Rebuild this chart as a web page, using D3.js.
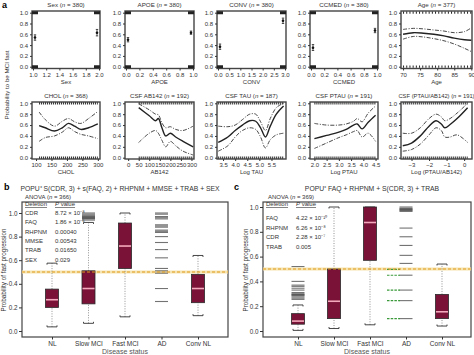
<!DOCTYPE html>
<html><head><meta charset="utf-8">
<script src="https://cdn.jsdelivr.net/npm/d3@7"></script>
<style>body{margin:0;background:#fff}svg{font-family:"Liberation Sans",Arial,Helvetica,sans-serif}</style>
</head><body><svg id="c" width="474" height="355"></svg>
<script>
// ---------- DATA: panel a, row 1 (categorical predictors) ----------
const sexLv=[1,2], sexFit=[0.54,0.63], sexLo=[0.49,0.57], sexHi=[0.59,0.69];
const apoeLv=[0,1], apoeFit=[0.50,0.63], apoeLo=[0.46,0.60], apoeHi=[0.54,0.66];
const convLv=[0,3], convFit=[0.37,0.85], convLo=[0.32,0.80], convHi=[0.42,0.90];
const ccmedLv=[0,1], ccmedFit=[0.35,0.67], ccmedLo=[0.30,0.63], ccmedHi=[0.41,0.71];
// ---------- DATA: smooth curves ----------
const ageX=[70,73,76,79,82,85,88,90];
const ageFit=[0.60,0.63,0.62,0.60,0.57,0.53,0.50,0.49];
const ageHi=[0.69,0.71,0.70,0.68,0.66,0.63,0.65,0.72];
const ageLo=[0.51,0.56,0.55,0.52,0.48,0.42,0.34,0.28];
const cholX=[110,130,160,185,205,225,245,270,300];
const cholFit=[0.59,0.55,0.49,0.55,0.63,0.58,0.52,0.55,0.62];
const cholHi=[0.84,0.70,0.58,0.67,0.72,0.66,0.63,0.72,0.85];
const cholLo=[0.30,0.37,0.40,0.47,0.55,0.48,0.43,0.40,0.35];
const abX=[50,100,130,143,160,178,200,225,260,308];
const abFit=[0.92,0.77,0.68,0.72,0.55,0.40,0.45,0.38,0.30,0.20];
const abHi=[0.99,0.88,0.80,0.79,0.64,0.55,0.57,0.52,0.50,0.58];
const abLo=[0.28,0.45,0.50,0.45,0.32,0.20,0.30,0.22,0.12,0.05];
const tauX=[3.3,3.7,4.0,4.3,4.6,4.85,5.05,5.25,5.45,5.7,6.0];
const tauFit=[0.28,0.38,0.50,0.60,0.68,0.67,0.55,0.38,0.58,0.80,0.95];
const tauHi=[0.58,0.57,0.60,0.70,0.80,0.80,0.66,0.50,0.72,0.92,1.0];
const tauLo=[0.12,0.22,0.38,0.50,0.55,0.52,0.38,0.18,0.33,0.42,0.45];
const ptauX=[2.0,2.5,3.0,3.3,3.6,3.75,3.95,4.2,4.5];
const ptauFit=[0.35,0.41,0.47,0.52,0.60,0.62,0.53,0.65,0.78];
const ptauHi=[0.63,0.60,0.60,0.62,0.67,0.72,0.66,0.82,0.95];
const ptauLo=[0.17,0.27,0.37,0.42,0.48,0.50,0.38,0.45,0.30];
const ratioX=[-3.5,-3.0,-2.5,-2.0,-1.6,-1.3,-1.1,-0.8,-0.4,0.2];
const ratioFit=[0.22,0.27,0.40,0.58,0.68,0.62,0.55,0.61,0.72,0.92];
const ratioHi=[0.45,0.45,0.55,0.72,0.80,0.75,0.68,0.72,0.82,1.0];
const ratioLo=[0.12,0.15,0.25,0.42,0.55,0.50,0.38,0.38,0.42,0.28];
const yTicks=[0,0.2,0.4,0.6,0.8,1.0];

// ---------- DATA: panel b ----------
const statusCats=["NL","Slow MCI","Fast MCI","AD","Conv NL"];
const bLoW=[0.035,0.065,0.12,null,0.13];
const bQ1=[0.20,0.23,0.53,null,0.24];
const bMed=[0.265,0.36,0.72,null,0.36];
const bQ3=[0.355,0.51,0.915,null,0.48];
const bHiW=[0.575,0.92,1.0,null,0.64];
const bOut=[[],[0.94,0.95,0.955,0.96,0.965,0.97,0.98,0.99,1.0],[],
  [1.0,0.99,0.97,0.96,0.95,0.90,0.89,0.88,0.855,0.845,0.835,0.80,0.75,0.69,0.62,0.53,0.51,0.49,0.36,0.25],[]];
const bDel=["CDR","FAQ","RHPNM","MMSE","TRAB","SEX"];
const bP=["8.72 × 10⁻⁸","1.86 × 10⁻⁵","0.00040","0.00543","0.01650","0.029"];
// ---------- DATA: panel c ----------
const cLoW=[0.005,0.02,0.05,null,0.04];
const cQ1=[0.055,0.10,0.57,null,0.10];
const cMed=[0.08,0.24,0.875,null,0.155];
const cQ3=[0.14,0.50,1.0,null,0.295];
const cHiW=[0.21,1.0,1.0,null,0.54];
const cOut=[[0.255,0.265,0.275,0.285,0.29,0.295,0.30,0.31,0.33,0.345,0.36,0.37,0.40,0.52],[],[],
  [1.0,0.99,0.985,0.98,0.975,0.97,0.965,0.83,0.76,0.69,0.61,0.545,0.45,0.33,0.245,0.10],[]];
const cGreen=[0.497,0.45,0.33,0.245,0.10];
const cDel=["FAQ","RHPNM","CDR","TRAB"];
const cP=["4.22 × 10⁻¹⁰","6.26 × 10⁻⁸","2.28 × 10⁻⁷","0.005"];

const svg=d3.select("#c");
const ink="#333";
const f1=d3.format(".1f");

// ---------- panel a helpers ----------
function frame(g,x0,x1,y0,y1,title,n,xlab,xs,ticks,fmt,ys,tfs){
  g.append("rect").attr("x",x0).attr("y",y0).attr("width",x1-x0).attr("height",y1-y0)
    .attr("fill","none").attr("stroke","#444").attr("stroke-width",1.4);
  const t=g.append("text").attr("x",(x0+x1)/2).attr("y",y0-4).attr("text-anchor","middle")
    .attr("font-size",tfs||6.2).attr("fill",ink);
  t.append("tspan").text(title+" (");
  t.append("tspan").attr("font-style","italic").text("n");
  t.append("tspan").text(" = "+n+")");
  const ya=g.append("g").attr("transform",`translate(${x0},0)`)
    .call(d3.axisLeft(ys).tickValues(yTicks).tickFormat(f1).tickSize(2).tickPadding(2));
  ya.select(".domain").remove();
  ya.selectAll("text").attr("font-size",6).attr("fill",ink);
  ya.selectAll("line").attr("stroke",ink);
  const xa=g.append("g").attr("transform",`translate(0,${y1})`)
    .call(d3.axisBottom(xs).tickValues(ticks).tickFormat(fmt).tickSize(2).tickPadding(2));
  xa.select(".domain").remove();
  xa.selectAll("text").attr("font-size",6).attr("fill",ink);
  xa.selectAll("line").attr("stroke",ink);
  g.append("text").attr("x",(x0+x1)/2).attr("y",y1+15).attr("text-anchor","middle")
    .attr("font-size",6).attr("fill",ink).text(xlab);
}

const rowY=[[11,68.5,12.7,66.7],[102,159,103.3,157.7]];
const colX=[[32,100],[125,194],[217,286],[310,378],[401,472]];

function catPanel(ci,title,n,xlab,dom,ticks,lv,fit,lo,hi,fmt){
  const [x0,x1]=colX[ci],[y0,y1,yt,yb]=rowY[0];
  const g=svg.append("g");
  const xs=d3.scaleLinear().domain(dom).range([x0+1,x1-1]);
  const ys=d3.scaleLinear().domain([0,1]).range([yb,yt]);
  frame(g,x0,x1,y0,y1,title,n,xlab,xs,ticks,fmt,ys);
  const clip="clip"+ci;
  g.append("clipPath").attr("id",clip).append("rect").attr("x",x0).attr("y",y0).attr("width",x1-x0).attr("height",y1-y0);
  const inner=g.append("g").attr("clip-path",`url(#${clip})`);
  lv.forEach((v,i)=>{
    [0,1].forEach(r=>inner.append("line").attr("x1",xs(v)-5).attr("x2",xs(v)+5)
      .attr("y1",ys(r)).attr("y2",ys(r)).attr("stroke","#222").attr("stroke-width",3));
    const px=xs(v)+(i===0?2:-2);
    inner.append("line").attr("x1",px).attr("x2",px).attr("y1",ys(lo[i])).attr("y2",ys(hi[i]))
      .attr("stroke","#222").attr("stroke-width",0.8);
    [lo[i],hi[i]].forEach(e=>inner.append("line").attr("x1",px-1.2).attr("x2",px+1.2)
      .attr("y1",ys(e)).attr("y2",ys(e)).attr("stroke","#222").attr("stroke-width",0.8));
    inner.append("circle").attr("cx",px).attr("cy",ys(fit[i])).attr("r",1.3).attr("fill","#111");
  });
}

function curvePanel(row,ci,title,n,xlab,dom,ticks,fmt,xv,fit,hi,lo,rugDash,tfs){
  const [x0,x1]=colX[ci],[y0,y1,yt,yb]=rowY[row];
  const g=svg.append("g");
  const xs=d3.scaleLinear().domain(dom).range([x0,x1]);
  const ys=d3.scaleLinear().domain([0,1]).range([yb,yt]);
  frame(g,x0,x1,y0,y1,title,n,xlab,xs,ticks,fmt,ys,tfs);
  const clip="clipc"+row+ci;
  g.append("clipPath").attr("id",clip).append("rect").attr("x",x0).attr("y",y0).attr("width",x1-x0).attr("height",y1-y0);
  const inner=g.append("g").attr("clip-path",`url(#${clip})`);
  const ext=d3.extent(xv);
  [0,1].forEach(r=>inner.append("line").attr("x1",xs(ext[0])).attr("x2",xs(ext[1]))
    .attr("y1",ys(r)).attr("y2",ys(r)).attr("stroke","#222").attr("stroke-width",2.2)
    .attr("stroke-dasharray",rugDash));
  const line=d3.line().x((d,i)=>xs(xv[i])).y(d=>ys(d)).curve(d3.curveCatmullRom);
  inner.append("path").attr("d",line(hi)).attr("fill","none").attr("stroke","#333")
    .attr("stroke-width",0.9).attr("stroke-dasharray","4,1.5,1,1.5");
  inner.append("path").attr("d",line(lo)).attr("fill","none").attr("stroke","#333")
    .attr("stroke-width",0.9).attr("stroke-dasharray","4,1.5,1,1.5");
  inner.append("path").attr("d",line(fit)).attr("fill","none").attr("stroke","#222")
    .attr("stroke-width",1.4);
}

const fmt1=d3.format(".1f"), fmt0=d3.format("d");
catPanel(0,"Sex",380,"Sex",[1,2],[1,1.2,1.4,1.6,1.8,2],sexLv,sexFit,sexLo,sexHi,fmt1);
catPanel(1,"APOE",380,"APOE",[0,1],[0,0.2,0.4,0.6,0.8,1],apoeLv,apoeFit,apoeLo,apoeHi,fmt1);
catPanel(2,"CONV",380,"CONV",[0,3],[0,0.5,1,1.5,2,2.5,3],convLv,convFit,convLo,convHi,fmt1);
catPanel(3,"CCMED",380,"CCMED",[0,1],[0,0.2,0.4,0.6,0.8,1],ccmedLv,ccmedFit,ccmedLo,ccmedHi,fmt1);
curvePanel(0,4,"Age",377,"Age",[69.4,90.2],[70,75,80,85,90],fmt0,ageX,ageFit,ageHi,ageLo,"1,2.2");
curvePanel(1,0,"CHOL",368,"CHOL",[87,307],[100,150,200,250,300],fmt0,cholX,cholFit,cholHi,cholLo,"1,1");
curvePanel(1,1,"CSF AB142",192,"AB142",[-15,312],[0,50,100,150,200,250,300],fmt0,abX,abFit,abHi,abLo,"1,1");
curvePanel(1,2,"CSF TAU",187,"Log TAU",[3.25,6.1],[3.5,4,4.5,5,5.5],fmt1,tauX,tauFit,tauHi,tauLo,"1,1");
curvePanel(1,3,"CSF PTAU",191,"Log PTAU",[1.82,4.6],[2,2.5,3,3.5,4,4.5],fmt1,ptauX,ptauFit,ptauHi,ptauLo,"1,1");
curvePanel(1,4,"CSF (PTAU/AB142)",191,"Log (PTAU/AB142)",[-3.6,0.45],[-3,-2,-1,0],fmt0,ratioX,ratioFit,ratioHi,ratioLo,"1,1",5.8);

svg.append("text").attr("x",2).attr("y",8).attr("font-size",9).attr("font-weight","bold").text("a");
svg.append("text").attr("transform","translate(9,85) rotate(-90)").attr("text-anchor","middle")
  .attr("font-size",6.2).attr("fill",ink).text("Probability to be MCI fast");

// ---------- panels b / c ----------
function boxPanel(o){
  const g=svg.append("g");
  const xs=d3.scalePoint().domain(statusCats).range(o.xr);
  const ys=d3.scaleLinear().domain([0,1]).range(o.yr);
  g.append("text").attr("x",o.lx).attr("y",190).attr("font-size",9).attr("font-weight","bold").text(o.letter);
  g.append("text").attr("x",o.tx).attr("y",191).attr("text-anchor","middle").attr("font-size",6.8).attr("fill",ink)
    .text(o.title);
  const an=g.append("text").attr("x",o.ax).attr("y",199).attr("font-size",6).attr("fill",ink);
  an.append("tspan").text("ANOVA (");an.append("tspan").attr("font-style","italic").text("n");
  an.append("tspan").text(" = "+o.n+")");
  g.append("rect").attr("x",o.bx[0]).attr("y",202).attr("width",o.bx[1]-o.bx[0]).attr("height",135)
    .attr("fill","#fff").attr("stroke","#444").attr("stroke-width",1.2);
  const ya=g.append("g").attr("transform",`translate(${o.bx[0]},0)`)
    .call(d3.axisLeft(ys).tickValues(yTicks).tickFormat(f1).tickSize(3).tickPadding(1.5));
  ya.select(".domain").remove();ya.selectAll("text").attr("font-size",6.3).attr("fill",ink);
  ya.selectAll("line").attr("stroke",ink);
  const xa=g.append("g").attr("transform",`translate(0,337)`)
    .call(d3.axisBottom(xs).tickSize(2.5).tickPadding(2));
  xa.select(".domain").remove();xa.selectAll("text").attr("font-size",6.5).attr("fill",ink);
  xa.selectAll("line").attr("stroke",ink);
  g.append("text").attr("x",(o.bx[0]+o.bx[1])/2).attr("y",354).attr("text-anchor","middle")
    .attr("font-size",7).attr("fill","#555").text("Disease status");
  g.append("text").attr("transform",`translate(${o.ylx},270) rotate(-90)`).attr("text-anchor","middle")
    .attr("font-size",6.3).attr("fill",ink).text("Probability of fast progression");
  // table
  g.append("text").attr("x",o.bx[0]+3).attr("y",206).attr("font-size",6).attr("fill",ink)
    .attr("text-decoration","underline").text("Deletion");
  const h2=g.append("text").attr("x",o.bx[0]+33).attr("y",206).attr("font-size",6).attr("fill",ink)
    .attr("text-decoration","underline");
  h2.append("tspan").attr("font-style","italic").text("P");h2.append("tspan").text(" value");
  o.del.forEach((d,i)=>{
    const y=o.ty0+i*o.tdy;
    g.append("text").attr("x",o.bx[0]+3).attr("y",y).attr("font-size",6).attr("fill",ink).text(d);
    g.append("text").attr("x",o.bx[0]+33).attr("y",y).attr("font-size",6).attr("fill",ink).text(o.p[i]);
  });
  // threshold line band
  g.append("line").attr("x1",o.bx[0]).attr("x2",o.bx[1]).attr("y1",ys(0.5)).attr("y2",ys(0.5))
    .attr("stroke","#f5e4b0").attr("stroke-width",3);
  const bw=13;
  statusCats.forEach((c,i)=>{
    const cx=xs(c);
    if(o.q1[i]!==null){
      const wl=(a,b)=>g.append("line").attr("x1",cx).attr("x2",cx).attr("y1",ys(a)).attr("y2",ys(b))
        .attr("stroke","#777").attr("stroke-width",0.8).attr("stroke-dasharray","1,1.5");
      wl(o.lw[i],o.q1[i]);wl(o.q3[i],o.hw[i]);
      [[o.lw[i],-1],[o.hw[i],1]].forEach(([v,s])=>{
        g.append("path").attr("d",`M${cx-5},${ys(v)+s*1.5}V${ys(v)}H${cx+5}V${ys(v)+s*1.5}`)
          .attr("fill","none").attr("stroke","#333").attr("stroke-width",0.9);
      });
      g.append("rect").attr("x",cx-bw/2).attr("y",ys(o.q3[i])).attr("width",bw)
        .attr("height",ys(o.q1[i])-ys(o.q3[i])).attr("fill","#7a1238").attr("stroke","#2a2a2a").attr("stroke-width",0.8);
      g.append("line").attr("x1",cx-bw/2+0.5).attr("x2",cx+bw/2-0.5).attr("y1",ys(o.med[i])).attr("y2",ys(o.med[i]))
        .attr("stroke","#f3a9bb").attr("stroke-width",1.6);
    }
    o.out[i].forEach(v=>g.append("line").attr("x1",cx-6.5).attr("x2",cx+6.5).attr("y1",ys(v)).attr("y2",ys(v))
      .attr("stroke","#444").attr("stroke-opacity",0.75).attr("stroke-width",1.1));
    if(c==="AD"&&o.green) o.green.forEach(v=>g.append("line").attr("x1",cx-19).attr("x2",cx-6)
      .attr("y1",ys(v)).attr("y2",ys(v)).attr("stroke","#3a9a3a").attr("stroke-width",1.1).attr("stroke-dasharray","2.5,1.2"));
  });
  g.append("line").attr("x1",o.bx[0]).attr("x2",o.bx[1]).attr("y1",ys(0.5)).attr("y2",ys(0.5))
    .attr("stroke","#e09a1c").attr("stroke-width",1.2).attr("stroke-dasharray","3,2");
}

boxPanel({letter:"b",lx:4,tx:120,ax:25,title:"POPU⁺ S(CDR, 3) + s(FAQ, 2) + RHPNM + MMSE + TRAB + SEX",
  n:366,bx:[22,228],xr:[52,198],yr:[331,213],ylx:6,del:bDel,p:bP,ty0:215,tdy:9.3,
  lw:bLoW,q1:bQ1,med:bMed,q3:bQ3,hw:bHiW,out:bOut});
boxPanel({letter:"c",lx:234,tx:372,ax:268,title:"POPU⁺ FAQ + RHPNM + S(CDR, 3) + TRAB",
  n:369,bx:[263,471],xr:[298,442],yr:[331,207],ylx:248,del:cDel,p:cP,ty0:220,tdy:9.5,
  lw:cLoW,q1:cQ1,med:cMed,q3:cQ3,hw:cHiW,out:cOut,green:cGreen});
</script></body></html>
